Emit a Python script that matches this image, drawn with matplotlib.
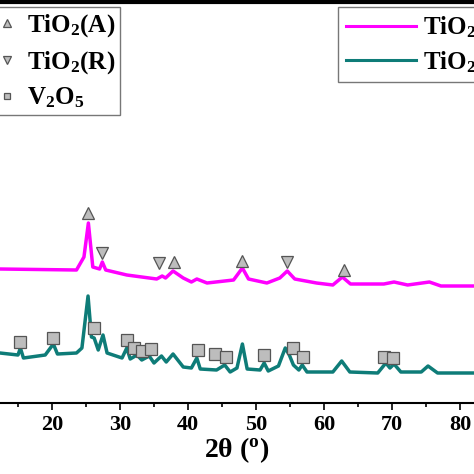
import matplotlib
matplotlib.use("Agg")
import matplotlib.pyplot as plt
from matplotlib.lines import Line2D
from matplotlib.ticker import MultipleLocator

plt.rcParams['font.family'] = ['Liberation Serif']
plt.rcParams['font.weight'] = 'bold'
plt.rcParams['mathtext.fontset'] = 'custom'
plt.rcParams['mathtext.rm'] = 'Liberation Serif:bold'
plt.rcParams['mathtext.bf'] = 'Liberation Serif:bold'
plt.rcParams['mathtext.it'] = 'Liberation Serif:bold'

tio2_x = [12.35, 23.6, 24.7, 25.35, 26.0, 27.0, 27.4, 27.9, 31.0, 35.4, 36.2, 36.7, 37.8, 39.3, 40.5, 41.3, 42.8, 46.7,
          48.0, 48.9, 51.6, 53.5, 54.6, 55.7, 58.9, 61.3, 62.7, 63.9, 68.8, 70.3, 72.3, 75.5, 77.2, 82.2]
tio2_y = [134, 133, 146, 180, 136, 134, 141, 133, 128, 124, 127, 125, 132, 125, 121, 124, 120, 123,
          135, 124, 120, 125, 132, 124, 120, 118, 126, 119, 119, 121, 118, 121, 117, 117]

tv_x = [12.35, 15.0, 15.35, 15.8, 19.0, 20.2, 20.8, 23.6, 24.4, 25.3, 25.8, 26.2, 26.8, 27.5, 28.1, 30.3, 31.0, 31.5,
        32.5, 33.2, 34.3, 35.0, 36.1, 36.8, 37.8, 39.3, 40.5, 41.3, 41.8, 44.2, 45.4, 46.2, 47.2, 48.0, 48.7, 50.6,
        51.2, 51.8, 53.3, 54.3, 54.9, 55.5, 56.3, 56.8, 57.5, 61.3, 62.6, 63.8, 67.9, 69.1, 69.7, 70.3, 71.3, 74.3,
        75.3, 76.7, 82.2]
tv_y = [50, 48, 55, 45, 48, 59, 49, 50, 55, 107, 66, 65, 53, 68, 50, 45, 55, 44,
        48, 43, 47, 40, 47, 41, 49, 36, 35, 45, 34, 33, 38, 31, 35, 59, 34, 33,
        40, 32, 37, 55, 48, 38, 33, 38, 31, 31, 42, 31, 30, 40, 35, 39, 31, 31,
        37, 30, 30]

anatase_x = [25.3, 38.0, 48.0, 62.9]
anatase_y = [190, 141, 142, 133]
rutile_x = [27.4, 35.8, 54.6]
rutile_y = [150, 140, 141]
v2o5_x = [15.35, 20.2, 26.2, 31.1, 32.1, 33.3, 34.5, 41.4, 44.0, 45.6, 51.2, 55.4, 56.9, 68.8, 70.2]
v2o5_y = [61, 65, 75, 63, 55, 52, 54, 53, 49, 46, 48, 55, 46, 46, 45]

W = 474
fig = plt.figure(figsize=(4.74, 4.74), dpi=100)
ax_left_px, ax_w_px = -47.4, 568.8
ax = fig.add_axes([ax_left_px / W, (474 - 403) / W, ax_w_px / W, 401 / W])
ppd = 6.8
x0 = 20 - (52 - ax_left_px) / ppd
ax.set_xlim(x0, x0 + ax_w_px / ppd)
ax.set_ylim(0, 401)

magenta = '#ff00ff'
teal = '#0e7c78'
ax.plot(tio2_x, tio2_y, color=magenta, lw=2.5)
ax.plot(tv_x, tv_y, color=teal, lw=2.5)

mk = dict(linestyle='none', mfc='#bdbdbd', mec='#555555', mew=0.9, ms=8)
ax.plot(anatase_x, anatase_y, marker='^', **mk)
ax.plot(rutile_x, rutile_y, marker='v', **mk)
ax.plot(v2o5_x, v2o5_y, marker='s', **mk)

ax.set_yticks([])
ax.xaxis.set_major_locator(MultipleLocator(10))
ax.xaxis.set_minor_locator(MultipleLocator(5))
ax.tick_params(axis='x', which='major', direction='out', length=5, width=1.2, labelsize=16, pad=4)
ax.tick_params(axis='x', which='minor', direction='out', length=3, width=1.2)
for lab in ax.get_xticklabels():
    lab.set_fontweight('bold')
ax.spines['bottom'].set_linewidth(1.5)
ax.spines['top'].set_linewidth(3)
ax.set_xlabel(r'2θ ($^\mathrm{o}$)', fontsize=20, fontweight='bold', labelpad=0)

h1 = [Line2D([], [], marker='^', **mk), Line2D([], [], marker='v', **mk), Line2D([], [], marker='s', **{**mk, 'ms': 6})]
leg1 = fig.legend(h1, [r'TiO$_2$(A)', r'TiO$_2$(R)', r'V$_2$O$_5$'], loc='upper left',
                  bbox_to_anchor=(-0.012, 0.985), prop={'size': 18, 'weight': 'bold'}, frameon=True,
                  fancybox=False, edgecolor='#555555', handlelength=0.6, handletextpad=0.5,
                  labelspacing=0.4, borderpad=0.2, borderaxespad=0, markerscale=0.75)
leg1.get_frame().set_linewidth(1)
h2 = [Line2D([], [], color=magenta, lw=2.2), Line2D([], [], color=teal, lw=2.2)]
leg2 = fig.legend(h2, [r'TiO$_2$', r'TiO$_2$/V$_2$O$_5$'], loc='upper left',
                  bbox_to_anchor=(338 / W, 0.985), prop={'size': 18, 'weight': 'bold'}, frameon=True,
                  fancybox=False, edgecolor='#555555', handlelength=2.8, handletextpad=0.3,
                  labelspacing=0.35, borderpad=0.3, borderaxespad=0)
leg2.get_frame().set_linewidth(1)

fig.savefig('out.png', dpi=100)
